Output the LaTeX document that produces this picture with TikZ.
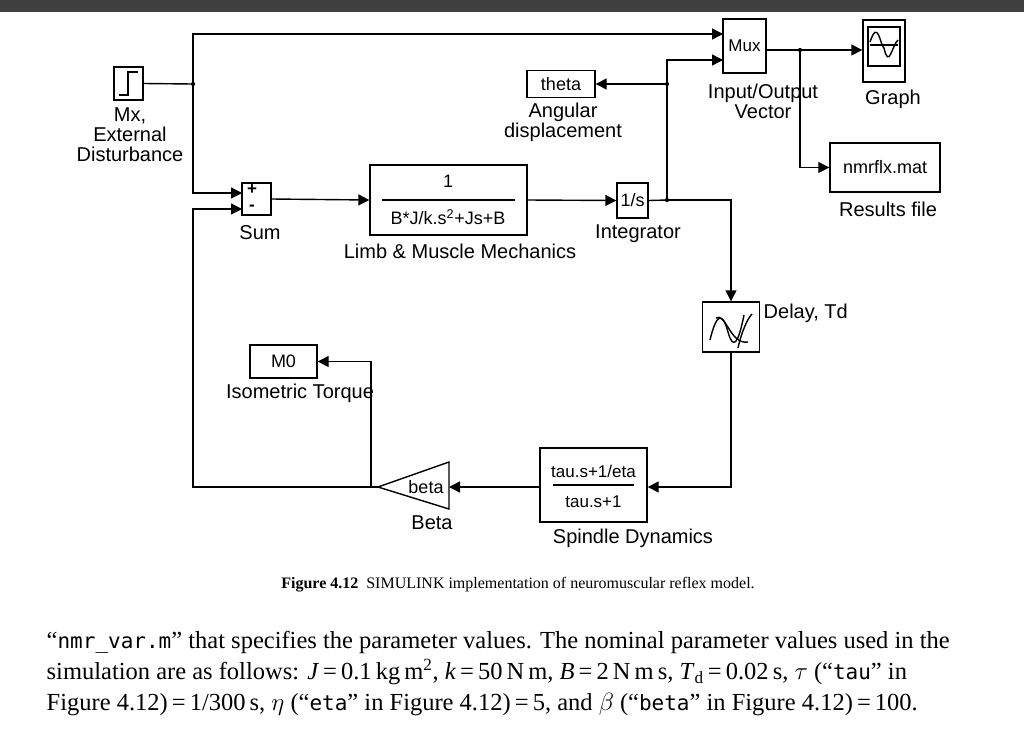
\documentclass[tikz,border=0pt]{standalone}
\usepackage{fontspec}
\setmainfont{Liberation Serif}
\newfontfamily\sans{Liberation Sans}
\newfontfamily\monof{DejaVu Sans Mono}
\usetikzlibrary{arrows.meta}
\newcommand{\mt}[1]{{\monof\fontsize{21}{21}\selectfont #1}}
\begin{document}
\begin{tikzpicture}[x=1pt,y=-1pt,line width=1.4pt,
  blk/.style={draw,inner sep=0pt},
  lab/.style={font=\sans\fontsize{20}{20}\selectfont,align=center,inner sep=0pt},
  w/.style={},
  a/.style={-{Triangle[length=11pt,width=11pt]}},
  dot/.style={circle,fill,inner sep=1.5pt}]
\useasboundingbox (0,0) rectangle (1024,734);
\fill[black!75] (0,0) rectangle (1024,12);
% blocks
\node[blk,minimum width=29,minimum height=33] (step) at (128.5,83.5) {};
\draw (119,95) -- (128,95) -- (128,72) -- (138,72);
\node[blk,minimum width=29,minimum height=32] (sum) at (256.5,199) {};
\node[font=\sans\fontsize{17}{17}\selectfont\bfseries] at (252,190) {+};
\node[font=\sans\fontsize{17}{17}\selectfont\bfseries] at (252,208) {-};
\node[blk,minimum width=157,minimum height=70] (limb) at (448.5,200) {};
\node[font=\sans\fontsize{18}{18}\selectfont] at (448,181) {1};
\draw (382,200) -- (515,200);
\node[font=\sans\fontsize{18}{18}\selectfont] at (448,217) {B*J/k.s\textsuperscript{2}+Js+B};
\node[blk,minimum width=31,minimum height=35] (int) at (632.5,200.5) {};
\node[font=\sans\fontsize{18}{18}\selectfont] at (632.5,200.5) {1/s};
\node[blk,minimum width=68,minimum height=27,font=\sans\fontsize{18}{18}\selectfont] (theta) at (561,84) {theta};
\node[blk,minimum width=43,minimum height=54,font=\sans\fontsize{17}{17}\selectfont] (mux) at (744.5,46) {Mux};
\node[blk,minimum width=42,minimum height=62] (graph) at (884,51) {};
\draw (868,27) rectangle (900,66);
\draw (870,45) -- (898,45);
\draw (870,42) .. controls (878,18) and (880,45) .. (884,48) .. controls (889,70) and (892,45) .. (898,40);
\node[blk,minimum width=110,minimum height=49,font=\sans\fontsize{18}{18}\selectfont] (mat) at (885,167.5) {nmrflx.mat};
\node[blk,minimum width=57,minimum height=50] (delay) at (731,327) {};
\draw (710,340) .. controls (716,315) and (722,310) .. (728,332) .. controls (733,350) and (738,345) .. (744,315);
\draw (716,318) .. controls (726,312) and (730,345) .. (748,342);
\draw (738,348) .. controls (742,330) and (748,318) .. (752,314);
\node[blk,minimum width=107,minimum height=74] (spin) at (593.5,485) {};
\node[font=\sans\fontsize{17}{17}\selectfont] at (593.5,471) {tau.s+1/eta};
\draw (553,485) -- (634,485);
\node[font=\sans\fontsize{17}{17}\selectfont] at (593.5,502) {tau.s+1};
\node[blk,minimum width=67,minimum height=33,font=\sans\fontsize{18}{18}\selectfont] (m0) at (283.5,361.5) {M0};
\coordinate (btip) at (378,487);
\draw (btip) -- (449,462) -- (449,509) -- cycle;
\node[font=\sans\fontsize{18}{18}\selectfont] (beta) at (426,487) {beta};
% labels
\node[lab] at (130,135) {Mx,\\External\\Disturbance};
\node[lab] at (260,233) {Sum};
\node[lab] at (460,251) {Limb \& Muscle Mechanics};
\node[lab] at (638,234) {Integrator};
\node[lab] at (563,122) {Angular\\displacement};
\node[lab] at (763,101) {Input/Output\\Vector};
\node[lab] at (893,99) {Graph};
\node[lab] at (888,209) {Results file};
\node[lab,anchor=west] at (763,313) {Delay, Td};
\node[lab] at (300,393) {Isometric Torque};
\node[lab] at (432,523) {Beta};
\node[lab] at (633,538) {Spindle Dynamics};
% connectors
\coordinate (j1) at (193,84);
\node[dot] at (j1) {};
\draw[w] (step.east) -- (j1);
\draw[a] (j1) |- (723,34);
\draw[a] (j1) |- (242,193);
\draw[a] (btip) -- (193,487) |- (242,209);
\draw[a] (sum.east) -- (limb.west);
\draw[a] (limb.east) -- (int.west);
\coordinate (j2) at (667,200);
\coordinate (j3) at (667,84);
\node[dot] at (j2) {}; \node[dot] at (j3) {};
\draw[w] (int.east) -- (j2);
\draw[a] (j2) -- (j3) |- (723,60);
\draw[a] (j3) -- (theta.east);
\draw[a] (j2) -| (delay.north);
\coordinate (j4) at (800,50);
\node[dot] at (j4) {};
\draw[w] (766,50) -- (j4);
\draw[a] (j4) -- (graph.west |- j4);
\draw[a] (j4) |- (mat.west);
\draw[a] (delay.south) |- (spin.east |- 0,487);
\draw[a] (spin.west |- 0,487) -- (449,487);
\draw[a] (371,487) |- (m0.east);
% caption & text
\node[font=\fontsize{16}{16}\selectfont] at (518,585) {\textbf{Figure 4.12}\ \ SIMULINK implementation of neuromuscular reflex model.};
\node[anchor=west,align=left,font=\fontsize{24.5}{31}\selectfont,inner sep=0pt] at (46,674) {%
``\mt{nmr\_var.m}'' that specifies the parameter values. The nominal parameter values used in the\\
simulation are as follows: \textit{J}\,=\,0.1\,kg\,m\textsuperscript{2}, \textit{k}\,=\,50\,N\,m, \textit{B}\,=\,2\,N\,m\,s, \textit{T}\textsubscript{d}\,=\,0.02\,s, $\tau$ (``\mt{tau}'' in\\
Figure 4.12)\,=\,1/300\,s, $\eta$ (``\mt{eta}'' in Figure 4.12)\,=\,5, and $\beta$ (``\mt{beta}'' in Figure 4.12)\,=\,100.};
\end{tikzpicture}
\end{document}
